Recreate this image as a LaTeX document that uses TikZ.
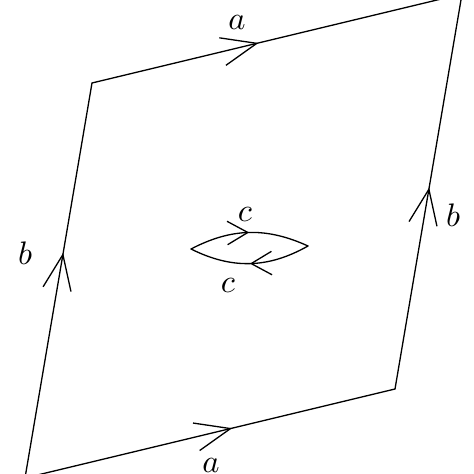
\documentclass[tikz,border=0pt]{standalone}
\usetikzlibrary{decorations.markings,arrows.meta}
\tikzset{
  barb/.style={decoration={markings,
      mark=at position #1 with {\arrow{Straight Barb[length=10.8pt,width=8.7pt]}}},
    postaction={decorate}},
  smallbarb/.style={decoration={markings,
      mark=at position #1 with {\arrow{Straight Barb[length=6.3pt,width=7.2pt]}}},
    postaction={decorate}},
  edge/.style={line cap=round}
}
\begin{document}
\begin{tikzpicture}[x=1.08cm,y=1.08cm]
\useasboundingbox (0,0) rectangle (4.74,4.74);
\clip (0,0) rectangle (4.74,4.74);
\coordinate (bl) at (0.25,-0.04);
\coordinate (br) at (3.95,0.85);
\coordinate (tr) at (4.62,4.80);
\coordinate (tl) at (0.92,3.91);
\coordinate (cl) at (1.91,2.25);
\coordinate (cr) at (3.08,2.28);
\draw[edge,barb=0.56] (bl) -- (br);
\draw[edge,barb=0.51] (br) -- (tr);
\draw[edge,barb=0.45] (tl) -- (tr);
\draw[edge,barb=0.57] (bl) -- (tl);
\draw[edge,smallbarb=0.5] (cl) to[bend left=26] (cr);
\draw[edge,smallbarb=0.5] (cr) to[bend left=28] (cl);
\node (atop) at (2.37,4.51) {$a$};
\node (abot) at (2.11,0.09) {$a$};
\node (bleft) at (0.25,2.21) {$b$};
\node (bright) at (4.53,2.59) {$b$};
\node (ctop) at (2.45,2.60) {$c$};
\node (cbot) at (2.28,1.89) {$c$};
\end{tikzpicture}
\end{document}
